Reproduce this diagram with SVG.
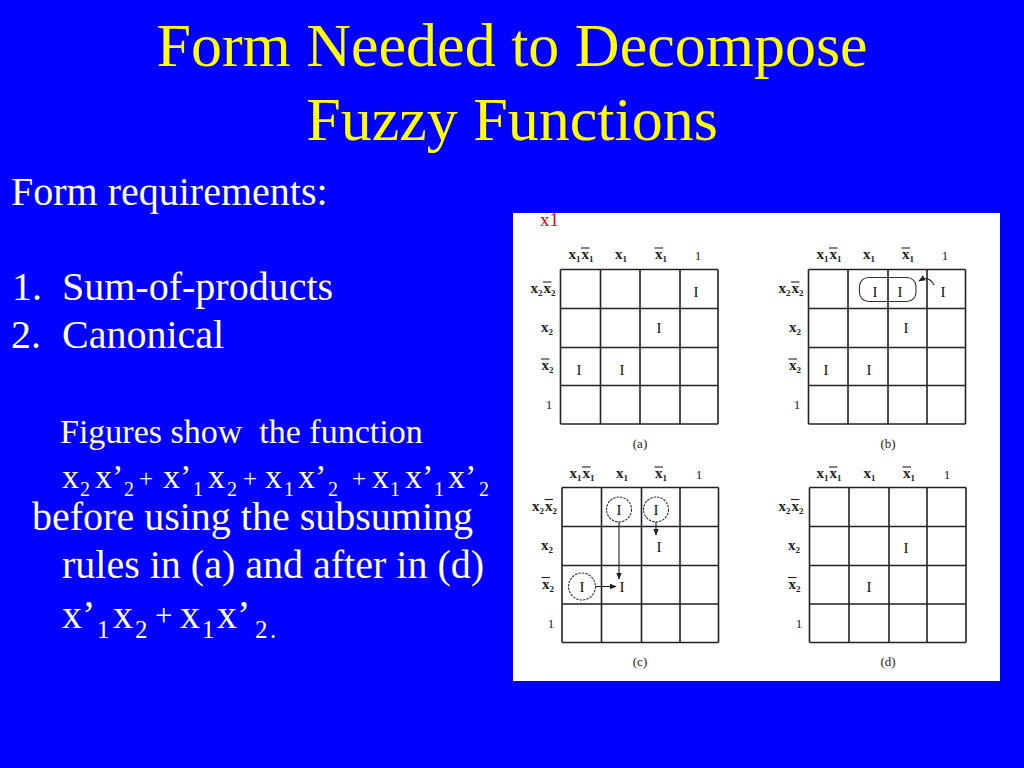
<svg xmlns="http://www.w3.org/2000/svg" width="1024" height="768" viewBox="0 0 1024 768">
<style>
.title{font-family:"Liberation Serif","Times New Roman",serif;font-size:62px;fill:#ffff00;text-anchor:middle}
.body{font-family:"Liberation Serif","Times New Roman",serif;font-size:40px;fill:#ffffff}
.small{font-family:"Liberation Serif","Times New Roman",serif;font-size:34px;fill:#ffffff}
.s1{font-size:20px}
.s2{font-size:25px}
.p1{font-size:25px}
.p2{font-size:31px}
.hd{font-family:"Liberation Serif","Times New Roman",serif;font-weight:bold;font-size:15px;fill:#222222}
.sb{font-size:9px}
.one{font-family:"Liberation Serif","Times New Roman",serif;font-size:13px;fill:#222222;text-anchor:middle}
.ent{font-family:"Liberation Serif","Times New Roman",serif;font-size:15px;fill:#111111;text-anchor:middle}
.cap{font-family:"Liberation Serif","Times New Roman",serif;font-size:13px;fill:#222222;text-anchor:middle}
.grid{fill:none;stroke:#222222;stroke-width:1.6}
.ob{stroke:#222222;stroke-width:1.1}
.loop{fill:none;stroke:#333333;stroke-width:1.1;stroke-dasharray:2.5 1}
.arr{fill:none;stroke:#222222;stroke-width:1.1}
</style>
<defs>
<marker id="ah" viewBox="0 0 10 10" refX="9" refY="5" markerWidth="7" markerHeight="7" markerUnits="userSpaceOnUse" orient="auto">
<path d="M0,1 L10,5 L0,9 Z" fill="#222222"/>
</marker>
</defs>
<rect x="0" y="0" width="1024" height="768" fill="#0000ff"/>

<g id="title">
<text class="title" x="512" y="66">Form Needed to Decompose</text>
<text class="title" x="512" y="140">Fuzzy Functions</text>
</g>

<g id="requirements">
<text class="body" x="11" y="205">Form requirements:</text>
<text class="body" x="12" y="300">1.</text>
<text class="body" x="62" y="300">Sum-of-products</text>
<text class="body" x="11" y="348">2.</text>
<text class="body" x="62" y="348">Canonical</text>
</g>

<g id="explanation">
<text class="small" x="60" y="443" xml:space="preserve">Figures show  the function</text>
<text class="small"><tspan x="62" y="488">x</tspan><tspan class="s1" x="80" y="496">2</tspan><tspan x="95" y="488">x’</tspan><tspan class="s1" x="124" y="496">2</tspan><tspan class="p1" x="139" y="487">+</tspan><tspan x="163" y="488">x’</tspan><tspan class="s1" x="193" y="496">1</tspan><tspan x="208" y="488">x</tspan><tspan class="s1" x="227" y="496">2</tspan><tspan class="p1" x="243" y="487">+</tspan><tspan x="265" y="488">x</tspan><tspan class="s1" x="284" y="496">1</tspan><tspan x="298" y="488">x’</tspan><tspan class="s1" x="328" y="496">2</tspan><tspan class="p1" x="352" y="487">+</tspan><tspan x="372" y="488">x</tspan><tspan class="s1" x="390" y="496">1</tspan><tspan x="405" y="488">x’</tspan><tspan class="s1" x="434" y="496">1</tspan><tspan x="448" y="488">x’</tspan><tspan class="s1" x="479" y="496">2</tspan></text>
<text class="body" x="32" y="530">before using the subsuming</text>
<text class="body" x="62" y="578">rules in (a) and after in (d)</text>
<text class="body"><tspan x="62" y="628">x’</tspan><tspan class="s2" x="97" y="638">1</tspan><tspan x="113" y="628">x</tspan><tspan class="s2" x="135" y="638">2</tspan><tspan class="p2" x="155" y="626">+</tspan><tspan x="180" y="628">x</tspan><tspan class="s2" x="202" y="638">1</tspan><tspan x="217" y="628">x’</tspan><tspan class="s2" x="255" y="638">2</tspan><tspan class="s2" x="270" y="638">.</tspan></text>
</g>

<g id="figure-panel">
<rect x="513" y="213" width="487" height="468" fill="#ffffff"/>
<text x="540" y="226" font-family="Liberation Serif, serif" font-size="19" fill="#e00000">x1</text>
</g>

<g id="map-a">
<path class="grid" d="M560.5,269.5V424M600.5,269.5V424M640,269.5V424M680,269.5V424M718,269.5V424M560.5,269.5H718M560.5,308.5H718M560.5,347.5H718M560.5,385.5H718M560.5,424H718"/>
<text class="hd" x="568.5" y="259">x<tspan class="sb" dy="3">1</tspan><tspan dx="1" dy="-3">x</tspan><tspan class="sb" dy="3">1</tspan></text>
<line class="ob" x1="581" y1="248" x2="589.5" y2="248"/>
<text class="hd" x="615" y="259">x<tspan class="sb" dy="3">1</tspan></text>
<text class="hd" x="655" y="259">x<tspan class="sb" dy="3">1</tspan></text>
<line class="ob" x1="654.5" y1="248" x2="663" y2="248"/>
<text class="one" x="698" y="260">1</text>
<text class="hd" x="530.5" y="293">x<tspan class="sb" dy="3">2</tspan><tspan dx="1" dy="-3">x</tspan><tspan class="sb" dy="3">2</tspan></text>
<line class="ob" x1="543" y1="282" x2="551.5" y2="282"/>
<text class="hd" x="541" y="332">x<tspan class="sb" dy="3">2</tspan></text>
<text class="hd" x="541.5" y="370">x<tspan class="sb" dy="3">2</tspan></text>
<line class="ob" x1="541" y1="359" x2="549.5" y2="359"/>
<text class="one" x="549" y="409">1</text>
<text class="ent" x="696" y="297">I</text>
<text class="ent" x="659" y="333">I</text>
<text class="ent" x="579" y="375">I</text>
<text class="ent" x="622" y="375">I</text>
<text class="cap" x="640" y="448">(a)</text>
</g>

<g id="map-b">
<path class="grid" d="M808.5,269.5V424M848,269.5V424M888,269.5V424M927,269.5V424M965.5,269.5V424M808.5,269.5H965.5M808.5,308.5H965.5M808.5,347.5H965.5M808.5,385.5H965.5M808.5,424H965.5"/>
<text class="hd" x="816.5" y="259">x<tspan class="sb" dy="3">1</tspan><tspan dx="1" dy="-3">x</tspan><tspan class="sb" dy="3">1</tspan></text>
<line class="ob" x1="829" y1="248" x2="837.5" y2="248"/>
<text class="hd" x="863" y="259">x<tspan class="sb" dy="3">1</tspan></text>
<text class="hd" x="902" y="259">x<tspan class="sb" dy="3">1</tspan></text>
<line class="ob" x1="901.5" y1="248" x2="910" y2="248"/>
<text class="one" x="945" y="260">1</text>
<text class="hd" x="778.5" y="293">x<tspan class="sb" dy="3">2</tspan><tspan dx="1" dy="-3">x</tspan><tspan class="sb" dy="3">2</tspan></text>
<line class="ob" x1="791" y1="282" x2="799.5" y2="282"/>
<text class="hd" x="789" y="332">x<tspan class="sb" dy="3">2</tspan></text>
<text class="hd" x="789" y="370">x<tspan class="sb" dy="3">2</tspan></text>
<line class="ob" x1="788.5" y1="359" x2="797" y2="359"/>
<text class="one" x="797" y="409">1</text>
<rect x="859.5" y="277.5" width="56.5" height="24" rx="9" ry="9" fill="none" stroke="#333333" stroke-width="1.1"/>
<text class="ent" x="875" y="297">I</text>
<text class="ent" x="900" y="297">I</text>
<text class="ent" x="943" y="297">I</text>
<text class="ent" x="906" y="333">I</text>
<text class="ent" x="826" y="375">I</text>
<text class="ent" x="869" y="375">I</text>
<text class="cap" x="888" y="448">(b)</text>
</g>

<g id="map-c">
<path class="grid" d="M562,487.5V642.5M601.5,487.5V642.5M641.5,487.5V642.5M680,487.5V642.5M718.5,487.5V642.5M562,487.5H718.5M562,526.5H718.5M562,565.5H718.5M562,604H718.5M562,642.5H718.5"/>
<text class="hd" x="569.5" y="478">x<tspan class="sb" dy="3">1</tspan><tspan dx="1" dy="-3">x</tspan><tspan class="sb" dy="3">1</tspan></text>
<line class="ob" x1="582" y1="467" x2="590.5" y2="467"/>
<text class="hd" x="616" y="478">x<tspan class="sb" dy="3">1</tspan></text>
<text class="hd" x="655" y="478">x<tspan class="sb" dy="3">1</tspan></text>
<line class="ob" x1="654.5" y1="467" x2="663" y2="467"/>
<text class="one" x="699" y="479">1</text>
<text class="hd" x="532" y="510.5">x<tspan class="sb" dy="3">2</tspan><tspan dx="1" dy="-3">x</tspan><tspan class="sb" dy="3">2</tspan></text>
<line class="ob" x1="544.5" y1="499.5" x2="553" y2="499.5"/>
<text class="hd" x="541" y="549.5">x<tspan class="sb" dy="3">2</tspan></text>
<text class="hd" x="542" y="588.5">x<tspan class="sb" dy="3">2</tspan></text>
<line class="ob" x1="541.5" y1="577.5" x2="550" y2="577.5"/>
<text class="one" x="551" y="628">1</text>
<circle class="loop" cx="619" cy="509.5" r="12.5"/>
<circle class="loop" cx="656" cy="509.5" r="12.5"/>
<circle class="loop" cx="582" cy="586.5" r="13.5"/>
<text class="ent" x="619" y="514.5">I</text>
<text class="ent" x="656" y="514.5">I</text>
<text class="ent" x="659" y="551.5">I</text>
<text class="ent" x="582" y="591.5">I</text>
<text class="ent" x="622" y="592">I</text>
<text class="cap" x="640" y="666">(c)</text>
</g>

<g id="map-d">
<path class="grid" d="M809.5,487.5V642.5M849,487.5V642.5M889,487.5V642.5M927,487.5V642.5M966,487.5V642.5M809.5,487.5H966M809.5,526.5H966M809.5,565.5H966M809.5,604H966M809.5,642.5H966"/>
<text class="hd" x="816.5" y="478">x<tspan class="sb" dy="3">1</tspan><tspan dx="1" dy="-3">x</tspan><tspan class="sb" dy="3">1</tspan></text>
<line class="ob" x1="829" y1="467" x2="837.5" y2="467"/>
<text class="hd" x="863.5" y="478">x<tspan class="sb" dy="3">1</tspan></text>
<text class="hd" x="903" y="478">x<tspan class="sb" dy="3">1</tspan></text>
<line class="ob" x1="902.5" y1="467" x2="911" y2="467"/>
<text class="one" x="947" y="479">1</text>
<text class="hd" x="778.5" y="510.5">x<tspan class="sb" dy="3">2</tspan><tspan dx="1" dy="-3">x</tspan><tspan class="sb" dy="3">2</tspan></text>
<line class="ob" x1="791" y1="499.5" x2="799.5" y2="499.5"/>
<text class="hd" x="788" y="549.5">x<tspan class="sb" dy="3">2</tspan></text>
<text class="hd" x="788.5" y="588.5">x<tspan class="sb" dy="3">2</tspan></text>
<line class="ob" x1="788" y1="577.5" x2="796.5" y2="577.5"/>
<text class="one" x="799" y="628">1</text>
<text class="ent" x="906" y="552.5">I</text>
<text class="ent" x="869" y="591.5">I</text>
<text class="cap" x="888" y="666">(d)</text>
</g>

<g id="connectors">
<path class="arr" d="M934,285 Q929,275 919,281" marker-end="url(#ah)"/>
<line class="arr" x1="619" y1="522" x2="619" y2="579" marker-end="url(#ah)"/>
<line class="arr" x1="656" y1="522" x2="656" y2="535" marker-end="url(#ah)"/>
<line class="arr" x1="595.5" y1="586.5" x2="616" y2="586.5" marker-end="url(#ah)"/>
</g>
</svg>
